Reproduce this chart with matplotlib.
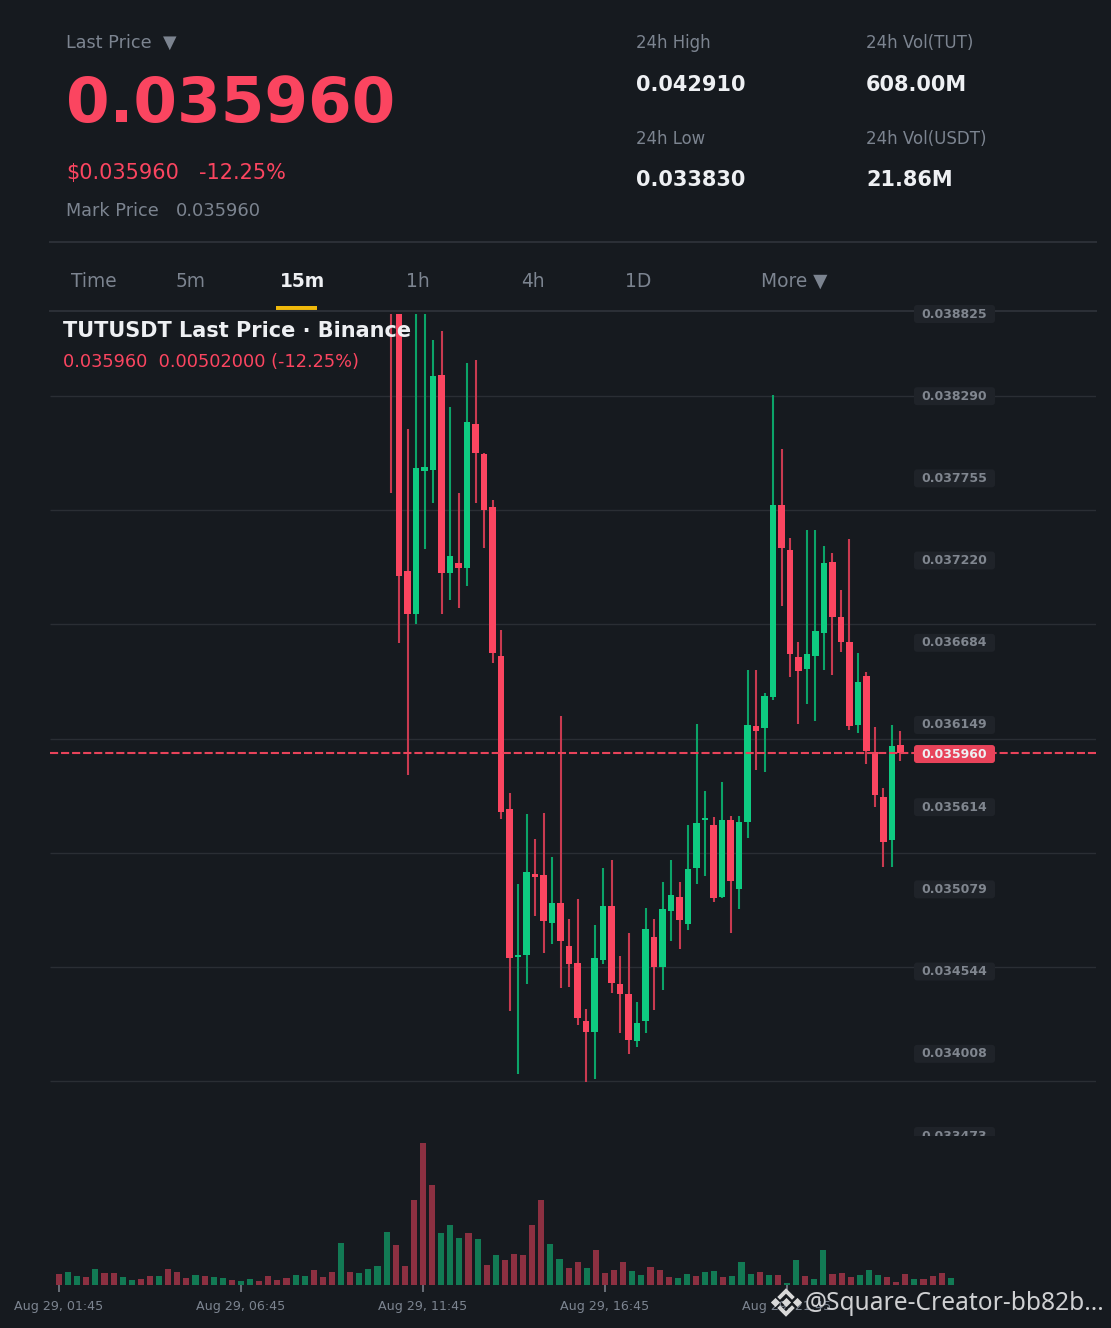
import numpy as np
import matplotlib
matplotlib.use('Agg')
import matplotlib.pyplot as plt
from matplotlib.patches import FancyBboxPatch, Rectangle

# candle values, in millionths of USDT
opens = [39600, 39300, 37146, 36866, 37797, 37803, 38421, 37133, 37198, 37165, 38103, 37907,
         37562, 36593, 35597, 34634, 34647, 35174, 35167, 34855, 34985, 34705, 34594, 34217,
         34145, 34614, 34965, 34458, 34393, 34087, 34217, 34764, 34568, 34933, 35024, 34848,
         35213, 35525, 35493, 35024, 35525, 35076, 35512, 36137, 36124, 36326, 37575, 37282,
         36586, 36508, 36593, 36742, 37204, 36846, 36684, 36144, 36462, 35968, 35675, 35395, 36013]
highs = [39800, 39500, 38070, 39000, 39100, 38649, 38708, 38213, 37653, 38500, 38519, 37914,
         37608, 36762, 35701, 35109, 35564, 35402, 35571, 35284, 36202, 34881, 35011, 34295,
         34842, 35213, 35265, 34640, 34790, 34341, 34952, 34881, 35122, 35265, 35122, 35493,
         36150, 35714, 35545, 35773, 35551, 35551, 36501, 36501, 36352, 38291, 37940, 37361,
         36684, 37413, 37413, 37309, 37263, 37022, 37354, 36612, 36488, 36130, 35733, 36144, 36104]
lows = [37653, 36677, 35818, 36801, 37289, 37588, 36866, 36957, 36905, 37048, 37588, 37296,
        36547, 35532, 34282, 33872, 34458, 34900, 34660, 34718, 34432, 34438, 34191, 33820,
        33840, 34588, 34399, 34139, 34002, 34048, 34139, 34289, 34419, 34738, 34686, 34809,
        35109, 35161, 34991, 35018, 34790, 34946, 35408, 35851, 35838, 36306, 36918, 36456,
        36150, 36280, 36170, 36501, 36469, 36619, 36111, 36091, 35890, 35610, 35219, 35219, 35909]
closes = [39300, 37113, 36866, 37816, 37823, 38415, 37133, 37243, 37165, 38116, 37914, 37543,
          36612, 35577, 34627, 34647, 35187, 35154, 34868, 34985, 34738, 34588, 34237, 34145,
          34627, 34965, 34464, 34393, 34093, 34204, 34816, 34568, 34946, 35037, 34874, 35206,
          35506, 35538, 35018, 35525, 35128, 35512, 36144, 36104, 36332, 37575, 37296, 36606,
          36495, 36606, 36755, 37198, 36846, 36684, 36137, 36423, 35974, 35688, 35382, 36007, 35960]

# volume panel, read as relative heights
volumes = [11, 13, 9, 8, 16, 12, 12, 8, 5, 6, 9, 9, 16, 13, 7, 10, 9, 8, 7, 5, 4, 6, 4, 9, 5,
           7, 10, 9, 15, 8, 13, 42, 13, 12, 16, 19, 53, 40, 19, 85, 142, 100, 52, 60, 47, 52, 46,
           20, 30, 25, 31, 30, 60, 85, 41, 26, 17, 23, 17, 35, 12, 15, 23, 14, 10, 18, 15, 8, 7,
           11, 9, 13, 14, 8, 9, 23, 11, 13, 10, 10, 2, 25, 9, 6, 35, 11, 12, 8, 10, 15, 10, 8, 3,
           11, 6, 6, 9, 12, 7]
volume_sides = ['d', 'g', 'g', 'd', 'g', 'd', 'd', 'g', 'g', 'd', 'd', 'g', 'd', 'd', 'd', 'g', 'd',
                'g', 'g', 'd', 'g', 'g', 'd', 'd', 'd', 'd', 'g', 'g', 'd', 'd', 'd', 'g', 'd', 'g',
                'g', 'g', 'g', 'd', 'd', 'd', 'd', 'd', 'g', 'g', 'g', 'd', 'g', 'd', 'g', 'd', 'd',
                'd', 'd', 'd', 'g', 'g', 'd', 'd', 'g', 'd', 'd', 'd', 'd', 'g', 'g', 'd', 'd', 'd',
                'g', 'g', 'd', 'g', 'g', 'd', 'g', 'g', 'g', 'd', 'g', 'd', 'g', 'g', 'd', 'g', 'g',
                'd', 'd', 'd', 'g', 'g', 'g', 'd', 'd', 'd', 'g', 'd', 'd', 'd', 'g']

price_ticks = [0.038825, 0.038290, 0.037755, 0.037220, 0.036684, 0.036149,
               0.035614, 0.035079, 0.034544, 0.034008, 0.033473]
grid_prices = [0.038285, 0.037543, 0.036801, 0.036052, 0.035310, 0.034568, 0.033825]
last_price = 0.035960

time_ticks = [0, 20, 40, 60, 80]
time_labels = ['Aug 29, 01:45', 'Aug 29, 06:45', 'Aug 29, 11:45', 'Aug 29, 16:45', 'Aug 29, 21:45']

tabs = ['Time', '5m', '1h', '4h', '1D', 'More ▼']

BG = '#161a1f'
RED = '#fb4560'
GREEN = '#0ecb81'
RED_WICK = '#c93a50'
GREEN_WICK = '#0ba468'
GRID = '#2a2e34'
MUTED = '#7c8490'
WHITE = '#eef0f3'

W, H = 1111, 1328


def add_axes(x0, y0, x1, y1):
    # pixel box, measured from the top left of the image
    ax = fig.add_axes([x0 / W, 1 - y1 / H, (x1 - x0) / W, (y1 - y0) / H])
    ax.patch.set_alpha(0)
    return ax


fig = plt.figure(figsize=(W / 100, H / 100), dpi=100, facecolor=BG)

# price panel
ax = add_axes(50, 314, 1096, 1136)
per_px = (price_ticks[0] - price_ticks[-1]) / (1135 - 313)
ax.set_ylim(price_ticks[0] - (1136 - 313.4) * per_px, price_ticks[0] - (314 - 313.4) * per_px)
ax.set_xlim((50 - 390.5) / 8.5, (1096 - 390.5) / 8.5)
ax.axis('off')

o, hi, lo, c = [np.array(v) / 1e6 for v in (opens, highs, lows, closes)]
x = np.arange(len(o))
up = c >= o
ax.hlines(grid_prices, *ax.get_xlim(), color=GRID, lw=1, zorder=1)
ax.vlines(x, lo, hi, color=np.where(up, GREEN_WICK, RED_WICK), lw=1.5, zorder=2)
ax.bar(x, np.abs(c - o), bottom=np.minimum(o, c), width=0.72,
       color=np.where(up, GREEN, RED), zorder=3)
ax.axhline(last_price, color='#e8435a', lw=1.5, dashes=(3.9, 1.4), zorder=4)

# volume panel
vax = add_axes(0, 1143, W, 1285)
vax.set_xlim(-59 / 9.1, (W - 59) / 9.1)
vax.set_ylim(0, 142)
vax.bar(np.arange(len(volumes)), volumes, width=0.68,
        color=['#127a54' if s == 'g' else '#8c3041' for s in volume_sides])
for side in ('top', 'left', 'right', 'bottom'):
    vax.spines[side].set_visible(False)
vax.set_yticks([])
vax.set_xticks(time_ticks)
vax.set_xticklabels(time_labels, fontsize=9.05, color=MUTED)
vax.tick_params(axis='x', length=5, width=1.4, color='#6a6f78', pad=5.5)

# everything around the chart, in image pixels
top = fig.add_axes([0, 0, 1, 1], zorder=5)
top.set_xlim(0, W)
top.set_ylim(H, 0)
top.axis('off')
top.patch.set_alpha(0)


def label(x, y, s, size, color=MUTED, bold=False, **kw):
    kw.setdefault('zorder', 3)
    top.text(x, y, s, fontsize=size, color=color, va='center',
             fontweight='bold' if bold else 'normal', **kw)


label(66, 43, 'Last Price', 12.7)
label(163, 43, '▼', 12.7)
label(66, 105, '0.035960', 45.2, RED, True)
label(66, 173, '$0.035960', 15, RED)
label(199, 173, '-12.25%', 15, RED)
label(66, 211, 'Mark Price', 12.7)
label(176, 211, '0.035960', 12.85)

label(636, 43, '24h High', 11.9)
label(636, 85, '0.042910', 15, WHITE, True)
label(866, 43, '24h Vol(TUT)', 11.95)
label(866, 85, '608.00M', 15, WHITE, True)
label(636, 139, '24h Low', 11.9)
label(636, 180, '0.033830', 15, WHITE, True)
label(866, 139, '24h Vol(USDT)', 11.95)
label(866, 180, '21.86M', 15, WHITE, True)

top.plot([50, 1096], [242, 242], color='#2b2f36', lw=1.5)
top.plot([50, 1096], [311, 311], color='#2b2f36', lw=1.5)

for tx, s in zip([71, 176, 406, 521.5, 625, 761], tabs):
    label(tx, 281.5, s, 13.4)
label(280, 281.5, '15m', 13.4, WHITE, True)
top.add_patch(Rectangle((276, 306), 41, 4, color='#f0b90b', lw=0))

label(63, 331, 'TUTUSDT Last Price · Binance', 15, WHITE, True)
label(63, 362, '0.035960  0.00502000 (-12.25%)', 12.75, RED)

# price scale chips
for p in price_ticks:
    py = 314 + (price_ticks[0] - p) / per_px
    top.add_patch(FancyBboxPatch((917, py - 6), 75, 12, boxstyle='round,pad=3,rounding_size=3',
                                 fc='#1f2329', ec='none', zorder=2))
    label(921.5, py, f'{p:.6f}', 9, '#80868f', True)
ly = 314 + (price_ticks[0] - last_price) / per_px
top.add_patch(FancyBboxPatch((917, ly - 6), 75, 12, boxstyle='round,pad=3,rounding_size=3',
                             fc='#e8435a', ec='none', zorder=2))
label(921.5, ly, f'{last_price:.6f}', 9, WHITE, True)
# the scale is cut off where the volume pane starts
top.add_patch(Rectangle((905, 1136), 100, 12, color=BG, lw=0, zorder=4))

# watermark
logo_c = '#d9d9d9'
top.plot([780, 786, 792], [1297, 1291, 1297], color=logo_c, lw=2.8, zorder=6, solid_joinstyle='miter')
top.plot([780, 786, 792], [1308, 1314, 1308], color=logo_c, lw=2.8, zorder=6, solid_joinstyle='miter')
top.scatter([775, 786, 797], [1302, 1302, 1302], marker='D', s=22, color=logo_c, lw=0, zorder=6)
label(804.5, 1303.5, '@Square-Creator-bb82b...', 17.65, '#cfd0d2', family='Noto Sans', zorder=6)

fig.savefig('out.png', dpi=100, facecolor=BG)
